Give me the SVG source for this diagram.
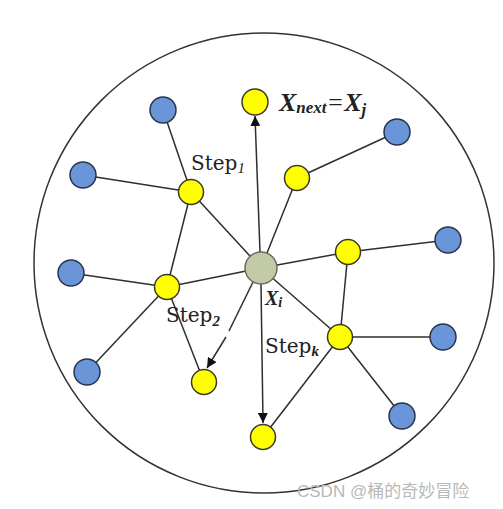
<svg xmlns="http://www.w3.org/2000/svg" width="503" height="509" viewBox="0 0 503 509">
<style>
.e{stroke:#2e2e2e;stroke-width:1.5;fill:none}
.y{fill:#ffff00;stroke:#3a3a2a;stroke-width:1.5}
.b{fill:#6a95d8;stroke:#28354d;stroke-width:1.5}
.g{fill:#c3cba6;stroke:#6a6a60;stroke-width:1.5}
.st{font-family:"DejaVu Serif",serif;font-size:20px;fill:#222}
.xs{font-family:"Liberation Serif",serif;font-style:italic;font-weight:bold;fill:#222}
.wm{font-family:"Liberation Sans","Noto Sans CJK SC",sans-serif;font-size:17px;fill:#b8b8b8}
</style>
<defs>
<marker id="ah" viewBox="0 0 10 10" refX="10" refY="5" markerWidth="10" markerHeight="10" markerUnits="userSpaceOnUse" orient="auto">
<path d="M0,0 L10,5 L0,10 Z" fill="#111"/>
</marker>
</defs>
<rect width="503" height="509" fill="#fff"/>
<circle id="boundary" cx="264" cy="263" r="230" fill="none" stroke="#333" stroke-width="1.5"/>
<g id="connectors">
<line class="e" x1="191" y1="192" x2="163" y2="110"/>
<line class="e" x1="191" y1="192" x2="83" y2="175"/>
<line class="e" x1="191" y1="192" x2="167" y2="287"/>
<line class="e" x1="191" y1="192" x2="261" y2="268"/>
<line class="e" x1="167" y1="287" x2="71" y2="273"/>
<line class="e" x1="167" y1="287" x2="87" y2="372"/>
<line class="e" x1="167" y1="287" x2="204" y2="382"/>
<line class="e" x1="167" y1="287" x2="261" y2="268"/>
<line class="e" x1="297" y1="178" x2="397" y2="132"/>
<line class="e" x1="297" y1="178" x2="261" y2="268"/>
<line class="e" x1="348" y1="252" x2="448" y2="240"/>
<line class="e" x1="348" y1="252" x2="340" y2="337"/>
<line class="e" x1="348" y1="252" x2="261" y2="268"/>
<line class="e" x1="340" y1="337" x2="443" y2="337"/>
<line class="e" x1="340" y1="337" x2="402" y2="416"/>
<line class="e" x1="340" y1="337" x2="263" y2="437"/>
<line class="e" x1="340" y1="337" x2="261" y2="268"/>
<line class="e" x1="260" y1="252" x2="255" y2="116" marker-end="url(#ah)"/>
<line class="e" x1="261" y1="284" x2="263" y2="423" marker-end="url(#ah)"/>
<line class="e" x1="253" y1="282" x2="229" y2="331"/>
<line class="e" x1="226" y1="337" x2="207" y2="368" marker-end="url(#ah)"/>
</g>
<g id="node-blue-1"><circle class="b" cx="163" cy="110" r="13"/></g>
<g id="node-blue-2"><circle class="b" cx="397" cy="132" r="13"/></g>
<g id="node-blue-3"><circle class="b" cx="83" cy="175" r="13"/></g>
<g id="node-blue-4"><circle class="b" cx="71" cy="273" r="13"/></g>
<g id="node-blue-5"><circle class="b" cx="448" cy="240" r="13"/></g>
<g id="node-blue-6"><circle class="b" cx="443" cy="337" r="13"/></g>
<g id="node-blue-7"><circle class="b" cx="87" cy="372" r="13"/></g>
<g id="node-blue-8"><circle class="b" cx="402" cy="416" r="13"/></g>
<g id="node-yellow-1"><circle class="y" cx="191" cy="192" r="12.5"/></g>
<g id="node-yellow-2"><circle class="y" cx="297" cy="178" r="12.5"/></g>
<g id="node-yellow-3"><circle class="y" cx="167" cy="287" r="12.5"/></g>
<g id="node-yellow-4"><circle class="y" cx="348" cy="252" r="12.5"/></g>
<g id="node-yellow-5"><circle class="y" cx="340" cy="337" r="12.5"/></g>
<g id="node-yellow-6"><circle class="y" cx="204" cy="382" r="12.5"/></g>
<g id="node-yellow-7"><circle class="y" cx="263" cy="437" r="12.5"/></g>
<g id="node-xnext"><circle class="y" cx="255" cy="102" r="13"/>
<text class="xs" x="279" y="111" font-size="26">X<tspan font-size="17" dy="2">next</tspan><tspan dy="-2" font-weight="normal">=</tspan>X<tspan font-size="17" dy="4">j</tspan></text></g>
<g id="node-xi"><circle class="g" cx="261" cy="268" r="16"/>
<text class="xs" x="265" y="305" font-size="20">X<tspan font-size="14" dy="2">i</tspan></text></g>
<g id="labels">
<text class="st" x="191" y="170">Step<tspan font-family="Liberation Serif,serif" font-style="italic" font-size="15" dy="3">1</tspan></text>
<text class="st" x="166" y="322">Step<tspan font-family="Liberation Serif,serif" font-style="italic" font-weight="bold" font-size="15" dy="4">2</tspan></text>
<text class="st" x="265" y="353">Step<tspan font-family="Liberation Serif,serif" font-style="italic" font-weight="bold" font-size="15" dy="3">k</tspan></text>
</g>
<text class="wm" x="297" y="497">CSDN @桶的奇妙冒险</text>
</svg>
